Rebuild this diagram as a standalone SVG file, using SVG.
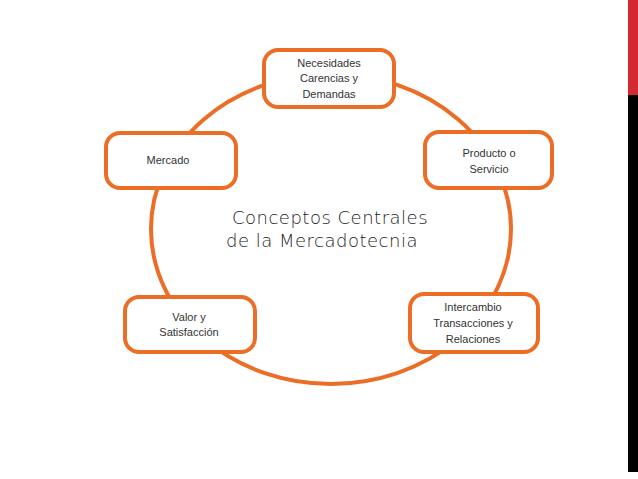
<svg xmlns="http://www.w3.org/2000/svg" width="638" height="479" viewBox="0 0 638 479">
<style>
.b{fill:#fff;stroke:#ec6d26;stroke-width:4}
.t{font-family:"Liberation Sans Narrow","Liberation Sans",sans-serif;font-size:11px;fill:#333;text-anchor:middle}
.c{font-family:"DejaVu Sans",sans-serif;font-size:18px;fill:#222;text-anchor:middle;font-weight:200;letter-spacing:0.5px}
</style>
<rect width="638" height="479" fill="#fff"/>
<rect x="628" y="0" width="10" height="95" fill="#d42a2f"/>
<rect x="628" y="95" width="10" height="377" fill="#000"/>
<g id="connectors"><ellipse cx="331" cy="229" rx="180" ry="155" fill="none" stroke="#ec6d26" stroke-width="4"/></g>
<text class="c" x="330" y="224">Conceptos Centrales</text>
<text class="c" x="322" y="247">de la Mercadotecnia</text>
<g id="n1"><rect class="b" x="264" y="50" width="130" height="57" rx="14"/><text class="t" x="329" y="67">Necesidades</text><text class="t" x="329" y="82">Carencias y</text><text class="t" x="329" y="98">Demandas</text></g>
<g id="n2"><rect class="b" x="106" y="133" width="130" height="55" rx="14"/><text class="t" x="168" y="164">Mercado</text></g>
<g id="n3"><rect class="b" x="425" y="132" width="127" height="56" rx="14"/><text class="t" x="489" y="157">Producto o</text><text class="t" x="489" y="173">Servicio</text></g>
<g id="n4"><rect class="b" x="125" y="297" width="130" height="55" rx="14"/><text class="t" x="189" y="321">Valor y</text><text class="t" x="189" y="336">Satisfacción</text></g>
<g id="n5"><rect class="b" x="410" y="294" width="128" height="58" rx="14"/><text class="t" x="473" y="311">Intercambio</text><text class="t" x="473" y="327">Transacciones y</text><text class="t" x="473" y="343">Relaciones</text></g>
</svg>
